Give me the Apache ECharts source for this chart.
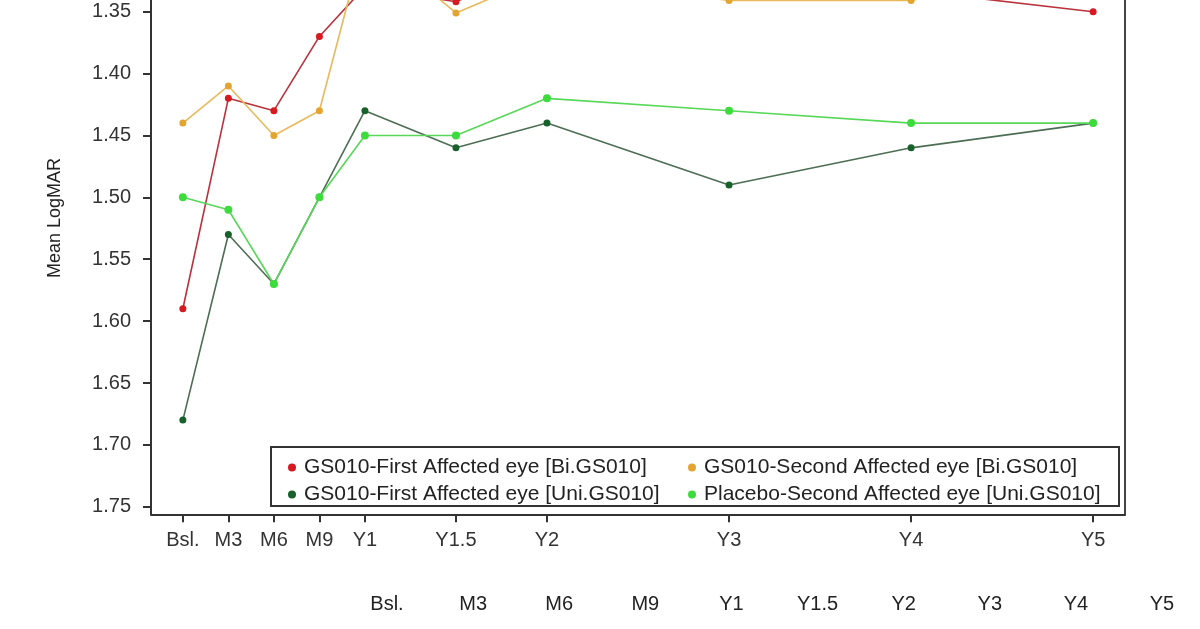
<!DOCTYPE html>
<html>
<head>
	<meta charset="utf-8">
	<title>Mean LogMAR</title>
	<style>
		body { margin: 0; padding: 0; background: #fff; }
		#main { width: 1200px; height: 629px; }
	</style>
</head>
<body>
	<div id="main"></div>
	<script src="https://cdn.jsdelivr.net/npm/echarts@6/dist/echarts.min.js"></script>
	<script type="text/javascript">
		// visit time in months and its label
		var visitMonths = [0, 3, 6, 9, 12, 18, 24, 36, 48, 60];
		var visitLabels = ['Bsl.', 'M3', 'M6', 'M9', 'Y1', 'Y1.5', 'Y2', 'Y3', 'Y4', 'Y5'];
		// second row of labels (evenly spaced, below the chart)
		var tableLabels = ['Bsl.', 'M3', 'M6', 'M9', 'Y1', 'Y1.5', 'Y2', 'Y3', 'Y4', 'Y5'];
		var yTicks = [1.35, 1.40, 1.45, 1.50, 1.55, 1.60, 1.65, 1.70, 1.75];

		var seriesNames = [
			'GS010-First Affected eye [Bi.GS010]',
			'GS010-Second Affected eye [Bi.GS010]',
			'GS010-First Affected eye [Uni.GS010]',
			'Placebo-Second Affected eye [Uni.GS010]'
		];
		var biFirst = [1.59, 1.42, 1.43, 1.37, 1.33, 1.342, 1.31, 1.32, 1.333, 1.35];
		var biSecond = [1.44, 1.41, 1.45, 1.43, 1.29, 1.351, 1.32, 1.341, 1.341, 1.31];
		var uniFirst = [1.68, 1.53, 1.57, 1.50, 1.43, 1.46, 1.44, 1.49, 1.46, 1.44];
		var uniPlacebo = [1.50, 1.51, 1.57, 1.50, 1.45, 1.45, 1.42, 1.43, 1.44, 1.44];

		function pairs(vals) {
			var out = [];
			for (var i = 0; i < vals.length; i++) {
				out.push([visitMonths[i], vals[i]]);
			}
			return out;
		}

		var font = '"Liberation Sans", Arial, sans-serif';

		function makeSeries(name, vals, markColor, lineColor, size) {
			return {
				name: name,
				type: 'line',
				data: pairs(vals),
				symbol: 'circle',
				symbolSize: size,
				clip: true,
				itemStyle: { color: markColor },
				lineStyle: { color: lineColor, width: 1.6 }
			};
		}

		var myChart = echarts.init(document.getElementById('main'));

		myChart.setOption({
			animation: false,
			backgroundColor: '#fff',
			grid: [
				// top of the plot box is cut off in the picture
				{ left: 151, right: 75, top: 0, bottom: 114.7 },
				{ left: 387, right: 38, top: 580, height: 10 }
			],
			legend: [
				{
					orient: 'vertical',
					left: 283, top: 452,
					icon: 'circle',
					itemWidth: 14, itemHeight: 8, itemGap: 6,
					textStyle: { fontFamily: font, fontSize: 21, color: '#222', lineHeight: 21 },
					data: [seriesNames[0], seriesNames[2]]
				},
				{
					orient: 'vertical',
					left: 683, top: 452,
					icon: 'circle',
					itemWidth: 14, itemHeight: 8, itemGap: 6,
					textStyle: { fontFamily: font, fontSize: 21, color: '#222', lineHeight: 21 },
					data: [seriesNames[1], seriesNames[3]]
				}
			],
			xAxis: [
				{
					type: 'value',
					gridIndex: 0,
					min: -2.1, max: 62.1,
					splitLine: { show: false },
					axisLine: { onZero: false, lineStyle: { color: '#333', width: 2 } },
					axisTick: { customValues: visitMonths, length: 8, lineStyle: { color: '#333', width: 2 } },
					axisLabel: {
						customValues: visitMonths,
						margin: 16,
						fontFamily: font, fontSize: 20, color: '#333',
						formatter: function (v) {
							var i = visitMonths.indexOf(v);
							return i >= 0 ? visitLabels[i] : '';
						}
					}
				},
				{
					type: 'category',
					gridIndex: 1,
					boundaryGap: false,
					data: tableLabels,
					axisLine: { show: false },
					axisTick: { show: false },
					axisLabel: {
						margin: 4,
						fontFamily: '"Liberation Sans Narrow", "Liberation Sans", sans-serif',
						fontSize: 20, color: '#222'
					}
				}
			],
			yAxis: [
				{
					type: 'value',
					gridIndex: 0,
					inverse: true,
					min: 1.34055, max: 1.7561,
					splitLine: { show: false },
					axisLine: { onZero: false, lineStyle: { color: '#333', width: 2 } },
					axisTick: { customValues: yTicks, length: 8, lineStyle: { color: '#333', width: 2 } },
					axisLabel: {
						customValues: yTicks,
						margin: 20,
						fontFamily: font, fontSize: 20, color: '#333',
						formatter: function (v) { return v.toFixed(2); }
					}
				},
				{
					// right side of the plot frame
					type: 'value',
					gridIndex: 0,
					position: 'right',
					inverse: true,
					min: 1.34055, max: 1.7561,
					splitLine: { show: false },
					axisTick: { show: false },
					axisLabel: { show: false },
					axisLine: { show: true, onZero: false, lineStyle: { color: '#444', width: 2 } }
				},
				{ type: 'value', gridIndex: 1, show: false }
			],
			graphic: [
				{
					type: 'text',
					x: 55, y: 218,
					rotation: Math.PI / 2,
					style: {
						text: 'Mean LogMAR',
						fontFamily: font, fontSize: 18, fill: '#222',
						align: 'center', verticalAlign: 'middle'
					}
				},
				{
					type: 'rect',
					shape: { x: 271, y: 447, width: 848, height: 59 },
					style: { fill: 'none', stroke: '#333', lineWidth: 2 }
				}
			],
			series: [
				makeSeries(seriesNames[0], biFirst, '#d71920', '#b8323c', 7),
				makeSeries(seriesNames[1], biSecond, '#e4a530', '#e9b95c', 7),
				makeSeries(seriesNames[2], uniFirst, '#17622a', '#4d6e54', 7),
				makeSeries(seriesNames[3], uniPlacebo, '#3ddc3d', '#58d858', 8)
			]
		});
	</script>
</body>
</html>
